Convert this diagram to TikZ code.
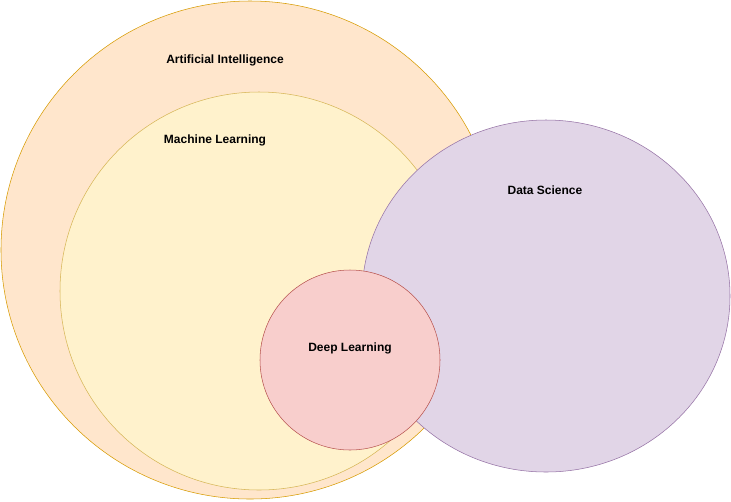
\documentclass[tikz,border=0pt]{standalone}
\usepackage{fontspec}
\setmainfont{Liberation Sans}
\definecolor{aif}{HTML}{FFE6CC}\definecolor{ais}{HTML}{D79B00}
\definecolor{mlf}{HTML}{FFF2CC}\definecolor{mls}{HTML}{D6B656}
\definecolor{dsf}{HTML}{E1D5E7}\definecolor{dss}{HTML}{9673A6}
\definecolor{dlf}{HTML}{F8CECC}\definecolor{dls}{HTML}{B85450}
\tikzset{lbl/.style={font=\bfseries\fontsize{9}{11}\selectfont}}
\begin{document}
\begin{tikzpicture}[x=0.75pt,y=-0.75pt]
\useasboundingbox (0,0) rectangle (731,501);
\fill[white] (0,0) rectangle (731,501);
\draw[ais,fill=aif] (250,250) circle[radius=249];
\draw[mls,fill=mlf] (259,291) circle[radius=199];
\draw[dss,fill=dsf] (546,296) ellipse[x radius=184,y radius=176];
\draw[dls,fill=dlf] (350,360) circle[radius=90];
\node[lbl] (ai) at (225,60) {Artificial Intelligence};
\node[lbl] (ml) at (215,140) {Machine Learning};
\node[lbl] (ds) at (545,190) {Data Science};
\node[lbl] (dl) at (350,348) {Deep Learning};
\end{tikzpicture}
\end{document}
